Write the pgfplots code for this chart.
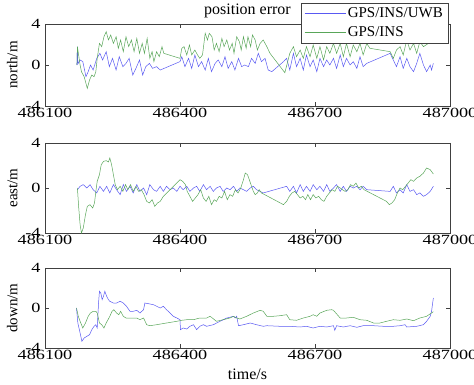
\documentclass[border=0pt]{standalone}
\usepackage{fontspec}
\setmainfont{Liberation Serif}
\newfontfamily\tickfont{Liberation Serif}[FakeStretch=1.3]
\usepackage{pgfplots}
\pgfplotsset{compat=1.18}
\definecolor{cblue}{rgb}{0.35,0.35,0.95}
\definecolor{cgreen}{rgb}{0.35,0.65,0.35}
\pgfplotsset{
  myax/.style={
    scale only axis, width=405pt,
    xmin=486100, xmax=487000, ymin=-4, ymax=4,
    xtick={486100,486400,486700,487000}, ytick={-4,0,4},
    scaled x ticks=false,
    /pgf/number format/.cd, fixed, set thousands separator={}, assume math mode=true, /pgfplots/.cd,
    tick align=inside, tick pos=both, major tick length=4pt,
    axis line style={black!75}, tick style={black!75},
    ticklabel style={font=\tickfont\fontsize{14}{14}\selectfont},
    xticklabel style={yshift=1pt},
    yticklabel style={xshift=-1pt},
    label style={font=\fontsize{15}{15}\selectfont},
    ylabel style={yshift=1pt},
  },
  bl/.style={color=cblue, line width=0.5pt},
  gr/.style={color=cgreen, line width=0.5pt},
}
\begin{document}
\begin{tikzpicture}
\useasboundingbox (0,0) rectangle (474pt,384pt);
\begin{axis}[myax, height=82pt, at={(45pt,278pt)}, anchor=south west,
  ylabel={north/m},
  title={position error}, title style={font=\fontsize{16}{16}\selectfont, yshift=-3pt},
  legend style={at={(axis description cs:1,1.26)}, anchor=north east, xshift=-2pt,
    font=\fontsize{15}{15}\selectfont, draw=black!75, fill=white, inner xsep=3pt, inner ysep=3pt,
    legend cell align=left, row sep=3pt},
  legend image code/.code={\path (0pt,0pt) -- (18pt,0pt); \draw[#1] (18pt,0pt) -- (41pt,0pt);}]
\addplot[bl] coordinates {(486171,0) (486172,1.8) (486173,0.1) (486178,0.49) (486184,0.33) (486191,-1.14) (486196,-0.65) (486201,0) (486207,-0.49) (486215,0.65) (486222,1.14) (486228,0.49) (486236,1.30) (486243,-0.16) (486250,0.65) (486258,-0.49) (486265,0.81) (486273,-0.16) (486280,0.16) (486287,0.65) (486295,-0.98) (486302,-0.33) (486310,0.49) (486317,-0.98) (486324,-0.16) (486332,0.16) (486339,-0.33) (486348,-0.16) (486356,-0.49) (486400,0.33) (486404,0.81) (486411,-0.16) (486419,0.65) (486426,-0.33) (486433,0.98) (486441,-0.16) (486448,0.33) (486456,-0.49) (486463,0.65) (486470,-0.65) (486478,0.16) (486485,0.49) (486493,-0.16) (486500,0.81) (486507,-0.33) (486515,0.33) (486522,-0.49) (486530,0.65) (486537,-0.16) (486544,0) (486552,-0.16) (486559,0.65) (486567,0.16) (486574,1.14) (486581,0.33) (486589,0.65) (486596,-0.49) (486604,-0.65) (486630,0.33) (486637,0.65) (486644,-0.49) (486652,1.14) (486659,-0.16) (486667,0.65) (486674,-0.49) (486681,0.98) (486689,-0.16) (486696,0.49) (486704,-0.65) (486711,0.65) (486719,-0.16) (486726,0.49) (486733,0) (486741,0.65) (486748,-0.33) (486756,0.98) (486763,-0.16) (486770,0.65) (486778,0) (486785,0.33) (486793,-0.33) (486800,0.81) (486807,-0.16) (486815,0.16) (486867,1.14) (486874,0.49) (486881,-0.16) (486889,0.81) (486896,-0.33) (486904,0.65) (486911,-0.16) (486919,-0.65) (486926,0.16) (486933,1.14) (486941,0) (486948,-0.65) (486956,0) (486959,-0.49) (486963,0.16)};
\addlegendentry{GPS/INS/UWB}
\addplot[gr] coordinates {(486171,0) (486172,1.8) (486178,0) (486181,-0.65) (486187,-1.14) (486191,-1.79) (486194,-2.28) (486199,-1.46) (486204,-0.98) (486209,-1.14) (486213,-0.65) (486216,0.65) (486221,2.11) (486226,1.79) (486231,2.76) (486236,3.25) (486241,2.44) (486246,2.93) (486252,2.11) (486258,2.76) (486263,1.63) (486268,2.44) (486274,1.30) (486280,2.76) (486286,1.79) (486292,2.44) (486298,1.30) (486304,2.60) (486310,1.14) (486316,2.11) (486321,1.14) (486327,2.60) (486333,0.65) (486338,1.30) (486342,0.33) (486348,1.30) (486354,0.81) (486360,1.79) (486364,1.14) (486400,0.65) (486404,1.63) (486409,1.79) (486415,0.98) (486421,1.95) (486426,0.98) (486433,1.46) (486439,0.98) (486444,0.65) (486450,0.98) (486456,3.09) (486461,2.44) (486465,3.09) (486471,2.76) (486476,1.46) (486481,2.11) (486487,1.30) (486493,2.60) (486498,1.79) (486504,2.44) (486510,1.46) (486516,2.11) (486520,1.14) (486526,2.76) (486532,2.28) (486536,1.46) (486541,2.76) (486547,1.63) (486551,2.76) (486557,1.79) (486561,2.93) (486567,2.44) (486572,1.46) (486578,2.11) (486585,2.44) (486593,1.79) (486600,1.14) (486633,-0.75) (486644,1.14) (486652,1.79) (486659,0.81) (486667,1.46) (486674,0.65) (486681,1.79) (486689,0.81) (486696,1.95) (486704,0.65) (486711,1.79) (486719,0.49) (486726,1.79) (486733,1.14) (486741,2.11) (486748,1.14) (486756,2.11) (486763,0.81) (486770,2.11) (486778,0.81) (486785,1.95) (486793,1.30) (486800,2.11) (486807,0.98) (486815,2.11) (486822,1.63) (486867,1.30) (486874,0.65) (486881,1.46) (486889,1.79) (486896,0.98) (486904,2.44) (486911,1.46) (486919,2.11) (486926,1.14) (486933,2.28) (486941,1.79) (486952,2.11)};
\addlegendentry{GPS/INS}
\end{axis}
\begin{axis}[myax, height=90pt, at={(45pt,151pt)}, anchor=south west, ylabel={east/m}]
\addplot[bl] coordinates {(486172,-0.15) (486178,0.15) (486185,0.3) (486193,0) (486200,0.3) (486207,-0.15) (486215,-0.44) (486222,0.15) (486230,-0.3) (486237,0.15) (486244,-0.44) (486252,0.3) (486259,-0.15) (486267,-0.59) (486274,0.3) (486281,-0.3) (486289,0.15) (486296,-0.44) (486304,0.3) (486311,-0.3) (486319,0) (486326,-0.59) (486333,0.3) (486341,-0.15) (486348,-0.3) (486356,0.15) (486363,-0.3) (486370,0.15) (486378,-0.15) (486385,0) (486393,-0.3) (486400,0.15) (486407,-0.15) (486415,0.15) (486422,-0.3) (486430,0) (486437,0.15) (486444,-0.3) (486452,0.3) (486459,-0.15) (486467,0.15) (486474,-0.3) (486481,0) (486489,0.15) (486496,-0.3) (486504,0) (486511,-0.15) (486519,0.15) (486526,-0.3) (486533,0) (486541,-0.15) (486548,-0.3) (486556,0) (486563,0.15) (486570,-0.15) (486578,-0.3) (486585,-0.44) (486637,0.15) (486644,-0.3) (486652,0.15) (486659,-0.44) (486667,0.3) (486674,-0.3) (486681,0.15) (486689,-0.3) (486696,0.3) (486704,-0.15) (486711,0.15) (486719,-0.3) (486726,0.3) (486733,-0.3) (486741,0) (486748,0.3) (486756,-0.3) (486763,0.15) (486770,-0.3) (486778,0.15) (486785,0) (486793,0.15) (486800,-0.15) (486807,0.15) (486815,-0.15) (486867,-0.3) (486874,0.15) (486881,-0.44) (486889,-0.15) (486896,-0.44) (486904,0.3) (486911,-0.3) (486919,-0.15) (486926,-0.59) (486933,-0.44) (486941,-0.74) (486948,-0.59) (486956,-0.3) (486963,0.15)};
\addplot[gr] coordinates {(486172,0) (486175,-1.78) (486178,-3.26) (486181,-4.0) (486185,-3.56) (486190,-2.37) (486194,-1.63) (486200,-1.48) (486206,-1.78) (486210,-1.33) (486213,-0.3) (486216,0.59) (486221,1.19) (486225,2.07) (486230,2.37) (486236,2.43) (486241,2.31) (486244,2.67) (486248,2.07) (486252,1.19) (486256,0.3) (486261,-0.15) (486267,0.15) (486273,-0.3) (486279,0.3) (486284,-0.15) (486290,0.3) (486296,-0.3) (486302,0.15) (486308,-0.3) (486314,-0.15) (486320,-0.59) (486326,-1.19) (486332,-1.33) (486338,-1.04) (486344,-1.63) (486350,-1.33) (486356,-1.19) (486363,-0.74) (486400,0.74) (486406,0.59) (486412,0.3) (486416,-0.3) (486422,-0.74) (486428,-1.19) (486434,-0.89) (486440,-0.59) (486446,-0.15) (486452,-0.89) (486458,-1.19) (486464,-0.74) (486470,-1.48) (486476,-1.04) (486481,-1.19) (486487,-0.74) (486493,-0.89) (486499,-0.3) (486505,-1.04) (486511,-0.59) (486517,-0.74) (486523,-0.15) (486529,-0.44) (486535,0) (486541,0.74) (486545,1.33) (486550,1.19) (486554,0.74) (486559,0.15) (486563,-0.3) (486567,-0.59) (486572,-0.44) (486576,-0.15) (486581,-0.44) (486630,-1.48) (486637,-1.19) (486643,-0.74) (486649,-0.44) (486655,-0.3) (486661,-0.59) (486667,-0.89) (486673,-0.74) (486679,-1.04) (486684,-0.59) (486690,-1.04) (486696,-0.59) (486702,-0.89) (486708,-0.74) (486714,-1.04) (486720,-1.19) (486726,-0.74) (486732,-0.44) (486738,-0.15) (486744,-0.3) (486750,0.15) (486756,0) (486761,-0.15) (486767,-0.3) (486773,-0.15) (486779,0.3) (486785,0.15) (486791,0.44) (486797,0) (486803,0.15) (486809,-0.15) (486859,-1.19) (486865,-1.48) (486871,-1.33) (486877,-1.04) (486883,-0.44) (486889,0) (486895,-0.15) (486901,0.15) (486907,0.44) (486913,0.74) (486919,0.59) (486926,0.89) (486933,1.04) (486941,1.33) (486948,1.78) (486956,1.63) (486963,1.24)};
\end{axis}
\begin{axis}[myax, height=80pt, at={(45pt,36pt)}, anchor=south west, ylabel={down/m},
  xlabel={time/s}, xlabel style={font=\fontsize{16}{16}\selectfont, yshift=-2pt}]
\addplot[bl] coordinates {(486170,0) (486173,-1.5) (486178,-2.5) (486182,-3.33) (486187,-3.0) (486193,-2.83) (486199,-2.67) (486204,-2.17) (486209,-1.83) (486213,-1.67) (486216,-2.0) (486219,0.5) (486221,1.67) (486224,1.5) (486227,0.83) (486230,1.17) (486233,1.67) (486237,1.17) (486241,0.83) (486244,0.67) (486252,0.5) (486259,0.5) (486267,0.67) (486274,0.5) (486281,0.17) (486289,-0.33) (486296,-0.33) (486304,-0.23) (486311,-0.5) (486319,-0.17) (486322,0.5) (486330,0.43) (486341,0.33) (486356,0) (486363,0.17) (486370,-0.17) (486378,-0.5) (486385,-0.83) (486393,-1.0) (486400,-1.17) (486401,-2.17) (486407,-2.0) (486415,-2.1) (486422,-1.83) (486430,-1.67) (486437,-2.17) (486444,-1.83) (486452,-1.67) (486459,-1.83) (486474,-1.67) (486489,-1.33) (486504,-1.0) (486519,-0.83) (486523,-1.0) (486526,-0.83) (486530,-1.77) (486541,-1.67) (486556,-1.5) (486570,-1.67) (486585,-1.83) (486593,-1.77) (486622,-1.83) (486644,-1.83) (486667,-1.9) (486681,-1.83) (486696,-2.0) (486711,-1.83) (486726,-1.9) (486741,-1.77) (486744,-2.23) (486748,-1.77) (486763,-1.9) (486778,-1.77) (486793,-1.93) (486807,-1.77) (486830,-1.77) (486852,-1.83) (486874,-1.83) (486889,-1.77) (486900,-1.67) (486904,-1.9) (486926,-1.83) (486941,-1.67) (486948,-1.33) (486956,-0.83) (486959,-0.33) (486963,1.0)};
\addplot[gr] coordinates {(486170,0) (486174,-0.83) (486178,-1.33) (486184,-2.0) (486190,-1.5) (486196,-0.83) (486201,-0.5) (486207,-0.33) (486213,-0.33) (486216,-0.5) (486221,-1.5) (486226,-1.67) (486231,-2.0) (486236,-1.5) (486240,-1.17) (486244,-0.83) (486249,-0.33) (486253,-0.17) (486259,-0.5) (486264,-0.67) (486268,-0.33) (486274,-0.83) (486280,-1.0) (486289,-1.0) (486296,-1.0) (486304,-1.0) (486311,-1.17) (486319,-1.0) (486326,-1.67) (486333,-1.77) (486348,-1.67) (486370,-1.5) (486393,-1.33) (486404,-1.23) (486415,-1.17) (486430,-1.17) (486444,-1.0) (486459,-1.0) (486467,-0.83) (486481,-1.33) (486496,-1.17) (486511,-1.0) (486519,-0.83) (486526,-1.0) (486533,-1.1) (486548,-0.83) (486563,-0.5) (486578,-0.23) (486585,-0.33) (486593,-0.83) (486607,-0.83) (486622,-0.77) (486637,-0.67) (486644,-1.17) (486659,-1.23) (486674,-1.0) (486689,-0.83) (486696,-0.67) (486704,-0.83) (486711,-0.5) (486726,-0.23) (486737,-0.17) (486741,-0.23) (486756,-1.0) (486770,-1.0) (486785,-0.93) (486800,-1.17) (486815,-1.23) (486830,-1.5) (486844,-1.5) (486859,-1.33) (486874,-1.17) (486889,-1.23) (486904,-1.1) (486919,-1.27) (486933,-1.0) (486948,-0.83) (486963,-0.37)};
\end{axis}
\end{tikzpicture}
\end{document}
